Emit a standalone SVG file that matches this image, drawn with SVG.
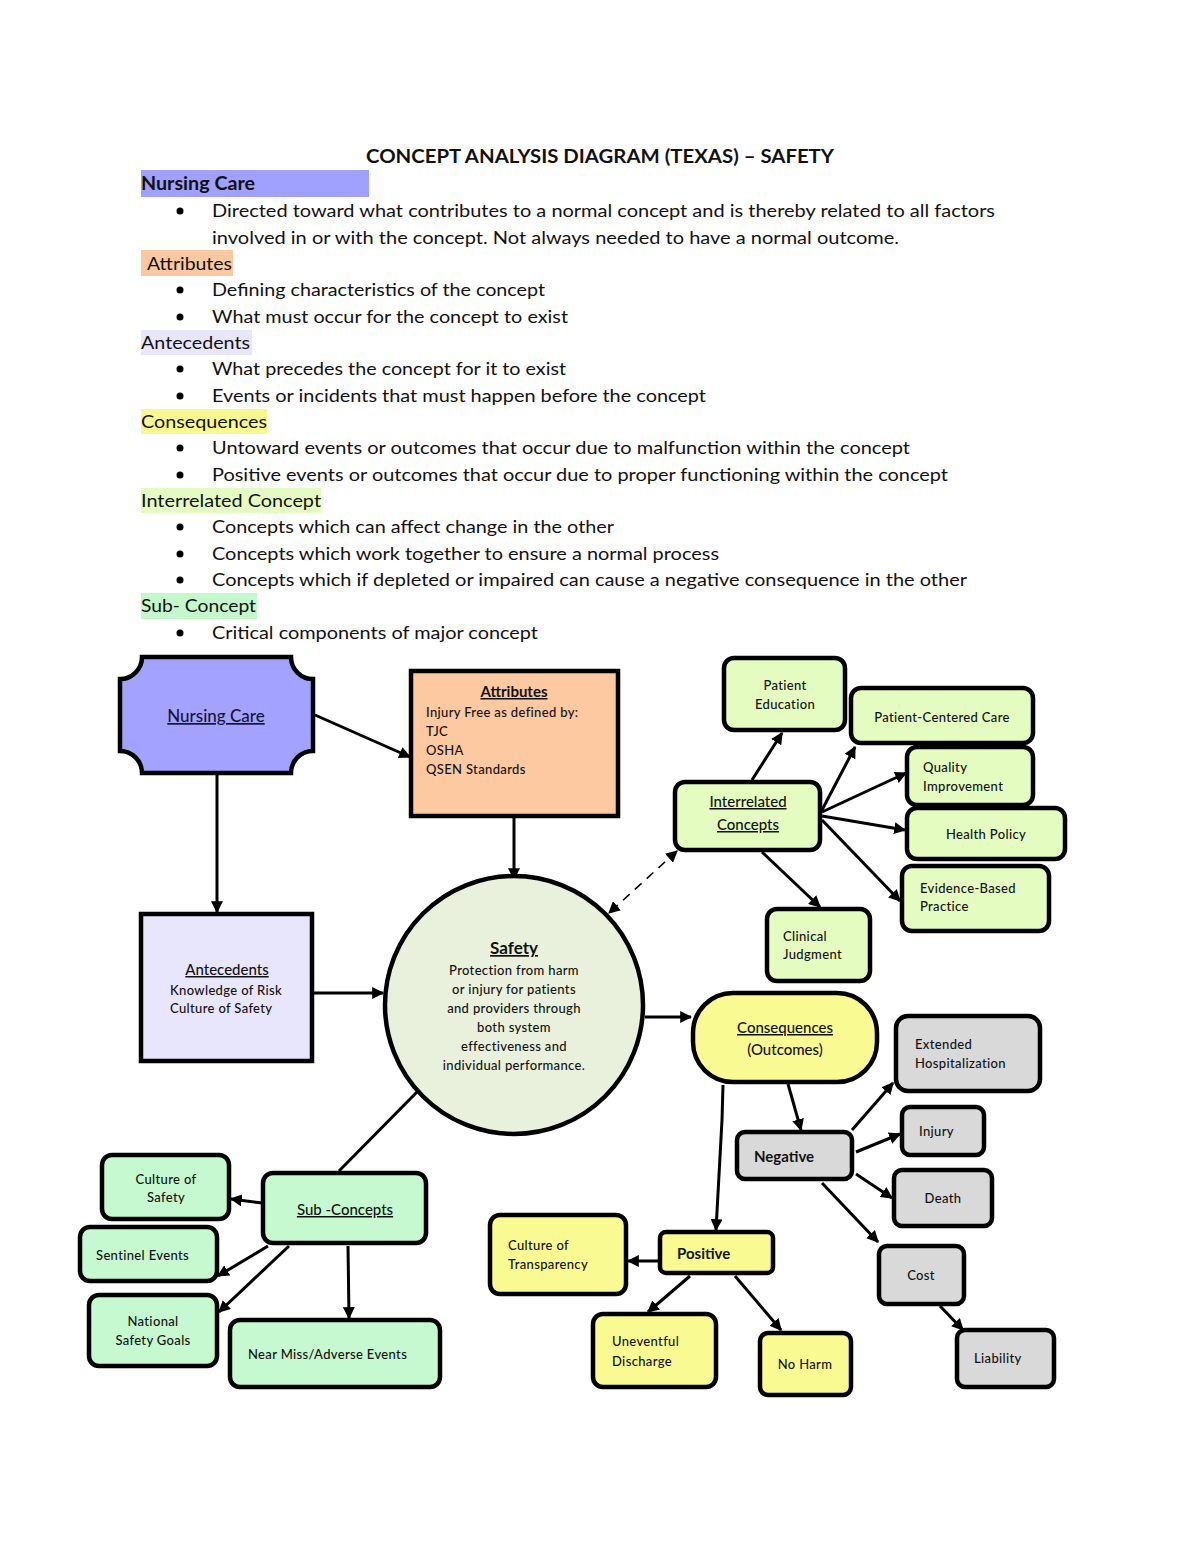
<svg xmlns="http://www.w3.org/2000/svg" width="1200" height="1553" viewBox="0 0 1200 1553">
<defs>
<marker id="ah" viewBox="0 0 10 10" refX="9" refY="5" markerWidth="4" markerHeight="4" orient="auto-start-reverse" markerUnits="strokeWidth">
<path d="M0,0 L10,5 L0,10 Z" fill="#000"/>
</marker>
<marker id="ahd" viewBox="0 0 10 10" refX="9" refY="5" markerWidth="12" markerHeight="12" orient="auto-start-reverse" markerUnits="userSpaceOnUse">
<path d="M0,0 L10,5 L0,10 Z" fill="#000"/>
</marker>
<style>
text{font-family:Lato,"Open Sans","Liberation Sans",sans-serif;fill:#111}
.lg{font-size:18px}
.hd{font-size:18px}
.n{font-size:13px;letter-spacing:0.35px;font-weight:500}
.nb{font-size:15px}
.u{text-decoration:underline}
.b{font-weight:bold}
.box{stroke:#000;stroke-width:4.5}
.grn{fill:#e4fcc0}
.mint{fill:#c6f9cf}
.yel{fill:#fafa93}
.gry{fill:#d9d9d9}
.c{stroke:#000;stroke-width:3;fill:none;marker-end:url(#ah)}
.cn{stroke:#000;stroke-width:3;fill:none}
.m{text-anchor:middle}
</style>
</defs>
<rect width="1200" height="1553" fill="#fff"/>

<g id="legend">
<text x="600" y="163" class="b m" font-size="19" textLength="468" lengthAdjust="spacingAndGlyphs">CONCEPT ANALYSIS DIAGRAM (TEXAS) – SAFETY</text>
<rect x="141" y="170" width="228" height="27" fill="#a0a0ff"/>
<text x="141" y="190" class="hd b" textLength="114" lengthAdjust="spacingAndGlyphs">Nursing Care</text>
<circle cx="180" cy="211" r="3.5" fill="#000"/>
<text x="212" y="217" class="lg" textLength="783" lengthAdjust="spacingAndGlyphs">Directed toward what contributes to a normal concept and is thereby related to all factors</text>
<text x="212" y="244" class="lg" textLength="687" lengthAdjust="spacingAndGlyphs">involved in or with the concept. Not always needed to have a normal outcome.</text>

<rect x="141" y="250" width="92" height="26" fill="#fbc9a1"/>
<text x="147" y="270" class="hd" textLength="85" lengthAdjust="spacingAndGlyphs">Attributes</text>
<circle cx="180" cy="290" r="3.5" fill="#000"/>
<text x="212" y="296" class="lg" textLength="333" lengthAdjust="spacingAndGlyphs">Defining characteristics of the concept</text>
<circle cx="180" cy="317" r="3.5" fill="#000"/>
<text x="212" y="323" class="lg" textLength="356" lengthAdjust="spacingAndGlyphs">What must occur for the concept to exist</text>

<rect x="141" y="330" width="111" height="25" fill="#e8e6fb"/>
<text x="141" y="349" class="hd" textLength="109" lengthAdjust="spacingAndGlyphs">Antecedents</text>
<circle cx="180" cy="369" r="3.5" fill="#000"/>
<text x="212" y="375" class="lg" textLength="354" lengthAdjust="spacingAndGlyphs">What precedes the concept for it to exist</text>
<circle cx="180" cy="396" r="3.5" fill="#000"/>
<text x="212" y="402" class="lg" textLength="494" lengthAdjust="spacingAndGlyphs">Events or incidents that must happen before the concept</text>

<rect x="141" y="409" width="126" height="25" fill="#f8f890"/>
<text x="141" y="428" class="hd" textLength="126" lengthAdjust="spacingAndGlyphs">Consequences</text>
<circle cx="180" cy="448" r="3.5" fill="#000"/>
<text x="212" y="454" class="lg" textLength="698" lengthAdjust="spacingAndGlyphs">Untoward events or outcomes that occur due to malfunction within the concept</text>
<circle cx="180" cy="475" r="3.5" fill="#000"/>
<text x="212" y="481" class="lg" textLength="736" lengthAdjust="spacingAndGlyphs">Positive events or outcomes that occur due to proper functioning within the concept</text>

<rect x="141" y="488" width="180" height="25" fill="#e4fcc4"/>
<text x="141" y="507" class="hd" textLength="180" lengthAdjust="spacingAndGlyphs">Interrelated Concept</text>
<circle cx="180" cy="527" r="3.5" fill="#000"/>
<text x="212" y="533" class="lg" textLength="402" lengthAdjust="spacingAndGlyphs">Concepts which can affect change in the other</text>
<circle cx="180" cy="554" r="3.5" fill="#000"/>
<text x="212" y="560" class="lg" textLength="507" lengthAdjust="spacingAndGlyphs">Concepts which work together to ensure a normal process</text>
<circle cx="180" cy="580" r="3.5" fill="#000"/>
<text x="212" y="586" class="lg" textLength="755" lengthAdjust="spacingAndGlyphs">Concepts which if depleted or impaired can cause a negative consequence in the other</text>

<rect x="141" y="593" width="116" height="26" fill="#c4f8cc"/>
<text x="141" y="612" class="hd" textLength="115" lengthAdjust="spacingAndGlyphs">Sub- Concept</text>
<circle cx="180" cy="633" r="3.5" fill="#000"/>
<text x="212" y="639" class="lg" textLength="326" lengthAdjust="spacingAndGlyphs">Critical components of major concept</text>
</g>

<g id="connectors">
<line class="c" x1="315" y1="715" x2="410" y2="757"/>
<line class="c" x1="217" y1="774" x2="217" y2="912"/>
<line class="c" x1="514" y1="817" x2="514" y2="879"/>
<line class="c" x1="314" y1="993" x2="383" y2="993"/>
<line stroke="#000" stroke-width="1.5" stroke-dasharray="9,7" fill="none" marker-start="url(#ahd)" marker-end="url(#ahd)" x1="677" y1="851" x2="609" y2="913"/>
<line class="c" x1="752" y1="780" x2="782" y2="733"/>
<line class="c" x1="822" y1="810" x2="855" y2="747"/>
<line class="c" x1="822" y1="812" x2="906" y2="773"/>
<line class="c" x1="822" y1="816" x2="905" y2="830"/>
<line class="c" x1="822" y1="820" x2="900" y2="901"/>
<line class="c" x1="762" y1="852" x2="820" y2="907"/>
<line class="c" x1="645" y1="1017" x2="691" y2="1017"/>
<line class="c" x1="788" y1="1084" x2="801" y2="1130"/>
<polyline class="c" points="723,1085 722,1120 716,1230"/>
<line class="c" x1="852" y1="1130" x2="893" y2="1083"/>
<line class="c" x1="856" y1="1152" x2="900" y2="1134"/>
<line class="c" x1="856" y1="1174" x2="892" y2="1198"/>
<line class="c" x1="822" y1="1183" x2="878" y2="1242"/>
<line class="c" x1="940" y1="1306" x2="963" y2="1330"/>
<line class="c" x1="658" y1="1261" x2="628" y2="1261"/>
<line class="c" x1="690" y1="1276" x2="648" y2="1312"/>
<line class="c" x1="735" y1="1276" x2="781" y2="1330"/>
<line class="cn" x1="417" y1="1092" x2="339" y2="1171"/>
<line class="c" x1="262" y1="1203" x2="231" y2="1199"/>
<line class="c" x1="268" y1="1246" x2="218" y2="1276"/>
<line class="c" x1="289" y1="1246" x2="219" y2="1312"/>
<line class="c" x1="348" y1="1246" x2="349" y2="1318"/>
</g>

<g id="nursing-care">
<path class="box" fill="#a3a3ff" d="M142 657 H291 A22 22 0 0 0 313 679 V751 A22 22 0 0 0 291 773 H142 A22 22 0 0 0 120 751 V679 A22 22 0 0 0 142 657 Z"/>
<text x="216" y="722" class="m u" font-size="17" style="fill:#15153a;font-weight:500">Nursing Care</text>
</g>

<g id="attributes">
<rect class="box" x="411" y="671" width="207" height="145" fill="#fdc9a1"/>
<text x="514" y="697" class="m u b" font-size="15">Attributes</text>
<text x="426" y="717" class="n">Injury Free as defined by:</text>
<text x="426" y="736" class="n">TJC</text>
<text x="426" y="755" class="n"> OSHA</text>
<text x="426" y="774" class="n">QSEN Standards</text>
</g>

<g id="antecedents">
<rect class="box" x="141" y="914" width="171" height="147" fill="#e8e6fc"/>
<text x="227" y="975" class="m u" font-size="15" font-weight="500">Antecedents</text>
<text x="170" y="995" class="n">Knowledge of Risk</text>
<text x="170" y="1013" class="n">Culture of Safety</text>
</g>

<g id="safety">
<circle class="box" cx="514" cy="1005" r="129" fill="#e9f1dc"/>
<text x="514" y="954" class="m u b" font-size="17">Safety</text>
<text x="514" y="975" class="m n" font-weight="600">Protection from harm</text>
<text x="514" y="994" class="m n" font-weight="600">or injury for patients</text>
<text x="514" y="1013" class="m n" font-weight="600">and providers through</text>
<text x="514" y="1032" class="m n" font-weight="600">both system</text>
<text x="514" y="1051" class="m n" font-weight="600">effectiveness and</text>
<text x="514" y="1070" class="m n" font-weight="600">individual performance.</text>
</g>

<g id="interrelated-concepts">
<rect class="box grn" x="675" y="782" width="145" height="68" rx="10"/>
<text x="748" y="807" class="m u" font-size="15" font-weight="500">Interrelated</text>
<text x="748" y="830" class="m u" font-size="15" font-weight="500">Concepts</text>
</g>
<g id="patient-education">
<rect class="box grn" x="724" y="658" width="121" height="72" rx="10"/>
<text x="785" y="690" class="m n">Patient</text>
<text x="785" y="709" class="m n">Education</text>
</g>
<g id="patient-centered-care">
<rect class="box grn" x="851" y="688" width="182" height="55" rx="10"/>
<text x="942" y="722" class="m n">Patient-Centered Care</text>
</g>
<g id="quality-improvement">
<rect class="box grn" x="907" y="747" width="126" height="58" rx="10"/>
<text x="923" y="772" class="n">Quality</text>
<text x="923" y="791" class="n">Improvement</text>
</g>
<g id="health-policy">
<rect class="box grn" x="907" y="808" width="158" height="51" rx="10"/>
<text x="986" y="839" class="m n">Health Policy</text>
</g>
<g id="evidence-based-practice">
<rect class="box grn" x="902" y="866" width="147" height="65" rx="10"/>
<text x="920" y="893" class="n">Evidence-Based</text>
<text x="920" y="911" class="n">Practice</text>
</g>
<g id="clinical-judgment">
<rect class="box grn" x="767" y="909" width="103" height="72" rx="10"/>
<text x="783" y="941" class="n">Clinical</text>
<text x="783" y="959" class="n">Judgment</text>
</g>

<g id="consequences">
<rect class="box yel" x="693" y="993" width="184" height="89" rx="40"/>
<text x="785" y="1033" class="m u" font-size="15" font-weight="500">Consequences</text>
<text x="785" y="1055" class="m" font-size="15" font-weight="500">(Outcomes)</text>
</g>
<g id="extended-hospitalization">
<rect class="box gry" x="896" y="1016" width="144" height="75" rx="12"/>
<text x="915" y="1049" class="n">Extended</text>
<text x="915" y="1068" class="n">Hospitalization</text>
</g>
<g id="negative">
<rect class="box gry" x="737" y="1132" width="115" height="47" rx="8"/>
<text x="754" y="1162" class="nb b">Negative</text>
</g>
<g id="injury">
<rect class="box gry" x="902" y="1107" width="82" height="48" rx="8"/>
<text x="919" y="1136" class="n">Injury</text>
</g>
<g id="death">
<rect class="box gry" x="894" y="1170" width="98" height="56" rx="8"/>
<text x="943" y="1203" class="m n">Death</text>
</g>
<g id="cost">
<rect class="box gry" x="879" y="1246" width="85" height="58" rx="8"/>
<text x="921" y="1280" class="m n">Cost</text>
</g>
<g id="liability">
<rect class="box gry" x="957" y="1330" width="97" height="57" rx="8"/>
<text x="974" y="1363" class="n">Liability</text>
</g>

<g id="positive">
<rect class="box yel" x="660" y="1232" width="113" height="41" rx="6"/>
<text x="677" y="1259" class="nb b">Positive</text>
</g>
<g id="culture-of-transparency">
<rect class="box yel" x="490" y="1215" width="136" height="79" rx="10"/>
<text x="508" y="1250" class="n">Culture of</text>
<text x="508" y="1269" class="n">Transparency</text>
</g>
<g id="uneventful-discharge">
<rect class="box yel" x="593" y="1314" width="123" height="73" rx="10"/>
<text x="612" y="1346" class="n">Uneventful</text>
<text x="612" y="1366" class="n">Discharge</text>
</g>
<g id="no-harm">
<rect class="box yel" x="760" y="1333" width="91" height="62" rx="8"/>
<text x="805" y="1369" class="m n">No Harm</text>
</g>

<g id="sub-concepts">
<rect class="box mint" x="263" y="1173" width="163" height="70" rx="10"/>
<text x="345" y="1215" class="m u" font-size="15" font-weight="500">Sub -Concepts</text>
</g>
<g id="culture-of-safety">
<rect class="box mint" x="102" y="1155" width="127" height="64" rx="10"/>
<text x="166" y="1184" class="m n">Culture of</text>
<text x="166" y="1202" class="m n">Safety</text>
</g>
<g id="sentinel-events">
<rect class="box mint" x="80" y="1227" width="137" height="54" rx="10"/>
<text x="96" y="1260" class="n">Sentinel Events</text>
</g>
<g id="national-safety-goals">
<rect class="box mint" x="89" y="1295" width="128" height="71" rx="10"/>
<text x="153" y="1326" class="m n">National</text>
<text x="153" y="1345" class="m n">Safety Goals</text>
</g>
<g id="near-miss-adverse-events">
<rect class="box mint" x="230" y="1320" width="210" height="67" rx="10"/>
<text x="248" y="1359" class="n">Near Miss/Adverse Events</text>
</g>
</svg>
